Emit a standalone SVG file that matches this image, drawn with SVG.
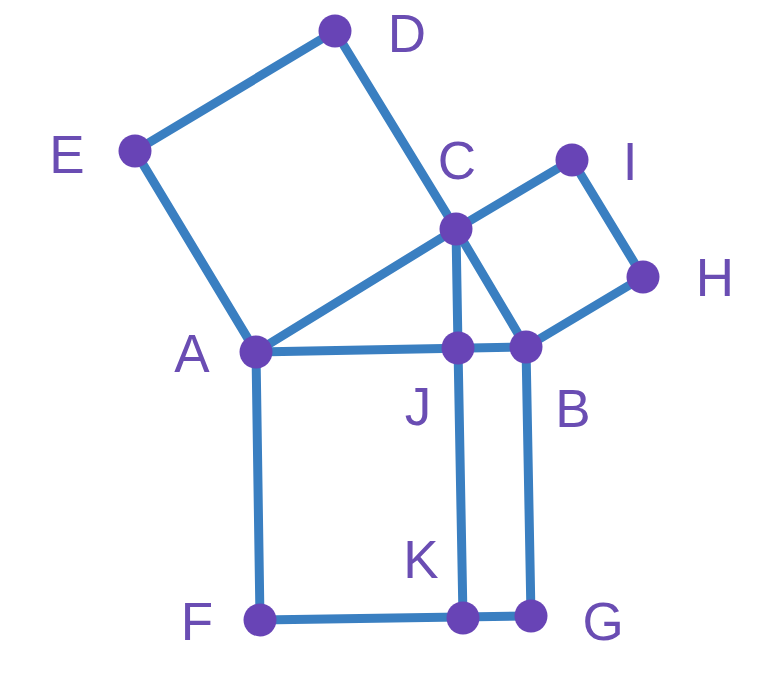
<svg xmlns="http://www.w3.org/2000/svg" width="779" height="689" viewBox="0 0 779 689">
<style>
.e{stroke:#3a7fc1;stroke-width:9;stroke-linecap:round;fill:none}
.n{fill:#6844b6}
.t{font-family:"Liberation Sans",Arial,sans-serif;font-size:53px;fill:#6a4db3;text-anchor:middle}
</style>
<rect width="779" height="689" fill="#ffffff"/>
<g id="connectors">
<line class="e" x1="135" y1="151" x2="335" y2="31"/>
<line class="e" x1="335" y1="31" x2="456" y2="229"/>
<line class="e" x1="135" y1="151" x2="256" y2="352"/>
<line class="e" x1="256" y1="352" x2="456" y2="229"/>
<line class="e" x1="456" y1="229" x2="572" y2="160"/>
<line class="e" x1="572" y1="160" x2="643" y2="277"/>
<line class="e" x1="643" y1="277" x2="526" y2="347"/>
<line class="e" x1="456" y1="229" x2="526" y2="347"/>
<line class="e" x1="456" y1="229" x2="458" y2="348"/>
<line class="e" x1="256" y1="352" x2="526" y2="347"/>
<line class="e" x1="256" y1="352" x2="260" y2="620"/>
<line class="e" x1="260" y1="620" x2="531" y2="616"/>
<line class="e" x1="458" y1="348" x2="463" y2="618"/>
<line class="e" x1="526" y1="347" x2="531" y2="616"/>
</g>
<g id="D"><circle class="n" cx="335" cy="31" r="16.5"/><text class="t" x="407" y="52">D</text></g>
<g id="E"><circle class="n" cx="135" cy="151" r="16.5"/><text class="t" x="67" y="173">E</text></g>
<g id="C"><circle class="n" cx="456" cy="229" r="16.5"/><text class="t" x="457" y="179">C</text></g>
<g id="I"><circle class="n" cx="572" cy="160" r="16.5"/><text class="t" x="630" y="180">I</text></g>
<g id="H"><circle class="n" cx="643" cy="277" r="16.5"/><text class="t" x="715" y="296">H</text></g>
<g id="A"><circle class="n" cx="256" cy="352" r="16.5"/><text class="t" x="192" y="372">A</text></g>
<g id="J"><circle class="n" cx="458" cy="348" r="16.5"/><text class="t" x="418" y="425">J</text></g>
<g id="B"><circle class="n" cx="526" cy="347" r="16.5"/><text class="t" x="573" y="427">B</text></g>
<g id="F"><circle class="n" cx="260" cy="620" r="16.5"/><text class="t" x="197" y="640">F</text></g>
<g id="K"><circle class="n" cx="463" cy="618" r="16.5"/><text class="t" x="421" y="578">K</text></g>
<g id="G"><circle class="n" cx="531" cy="616" r="16.5"/><text class="t" x="603" y="640">G</text></g>
</svg>
